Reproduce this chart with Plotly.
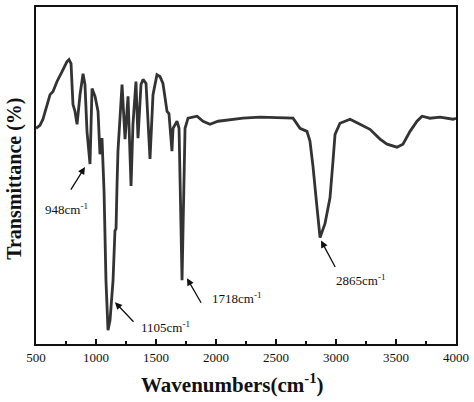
import plotly.graph_objects as go

wavenumber = [500, 533, 558, 592, 617, 642, 675, 717, 742, 758, 775, 792, 808, 825, 842,
              867, 892, 908, 925, 950, 967, 992, 1017, 1033, 1050, 1067, 1083, 1100, 1117,
              1142, 1158, 1167, 1175, 1183, 1217, 1242, 1267, 1292, 1308, 1333, 1350, 1375,
              1392, 1417, 1450, 1475, 1508, 1533, 1558, 1592, 1608, 1633, 1642, 1675, 1692,
              1708, 1717, 1725, 1742, 1767, 1842, 1892, 1950, 2017, 2225, 2367, 2642, 2700,
              2758, 2783, 2808, 2842, 2867, 2908, 2950, 2975, 2992, 3033, 3117, 3200, 3283,
              3367, 3425, 3508, 3558, 3617, 3675, 3717, 3783, 3867, 3975, 4000]
transmittance = [64.0, 64.9, 66.7, 70.5, 74.0, 74.9, 77.9, 80.8, 82.9, 83.8, 84.4, 83.2, 71.1,
                 69.0, 65.2, 74.0, 80.2, 77.0, 63.1, 53.4, 75.8, 73.5, 69.0, 56.3, 61.1, 45.4,
                 18.9, 4.1, 7.1, 18.9, 33.6, 34.2, 46.9, 57.2, 77.0, 60.8, 73.5, 46.9, 65.2,
                 77.9, 61.1, 77.0, 78.5, 77.3, 54.9, 74.0, 79.9, 79.4, 77.3, 69.0, 68.4, 57.2,
                 64.0, 66.1, 64.0, 36.6, 18.9, 33.6, 64.0, 67.0, 67.6, 66.1, 65.2, 66.1, 67.0,
                 67.3, 67.0, 64.0, 63.1, 60.2, 52.8, 40.4, 31.6, 35.7, 43.4, 54.3, 62.2, 65.5,
                 66.7, 65.2, 63.7, 60.8, 59.3, 58.4, 59.3, 63.1, 66.1, 67.6, 67.0, 67.3, 66.7,
                 67.0]

peak_labels = ["948cm<sup>-1</sup>", "1105cm<sup>-1</sup>", "1718cm<sup>-1</sup>", "2865cm<sup>-1</sup>"]
arrow_head_x = [908, 1158, 1758, 2875]
arrow_head_y = [52.5, 12.4, 19.5, 30.7]
label_x = [750, 1583, 2167, 3208]
label_y = [40.1, 5.0, 13.6, 18.9]
arrow_ax = [-15, 20, 15, 15]
arrow_ay = [24, 21, 26, 28]

tick_vals = [500, 1000, 1500, 2000, 2500, 3000, 3500, 4000]

font_family = "Liberation Serif"

fig = go.Figure()
fig.add_trace(go.Scatter(x=wavenumber, y=transmittance, mode="lines",
                         line=dict(color="#333333", width=2.8), showlegend=False))

for lab, hx, hy, lx, ly, ax, ay in zip(peak_labels, arrow_head_x, arrow_head_y,
                                         label_x, label_y, arrow_ax, arrow_ay):
    fig.add_annotation(x=hx, y=hy, xref="x", yref="y", text="", showarrow=True,
                       ax=ax, ay=ay, arrowhead=2, arrowsize=1.1, arrowwidth=1.3,
                       arrowcolor="#111111", standoff=0)
    fig.add_annotation(x=lx, y=ly, xref="x", yref="y", text=lab, showarrow=False,
                       font=dict(family=font_family, size=13, color="#111111"))

fig.add_annotation(x=0.469, y=-0.118, xref="paper", yref="paper", yanchor="middle",
                   text="<b>Wavenumbers(cm<sup>-1</sup>)</b>", showarrow=False,
                   font=dict(family=font_family, size=21, color="#111111"))
fig.add_annotation(x=-0.05, y=0.49, xref="paper", yref="paper", xanchor="center",
                   yanchor="middle",
                   text="<b>Transmittance (%)</b>", showarrow=False, textangle=-90,
                   font=dict(family=font_family, size=20, color="#111111"))

fig.update_layout(
    width=474, height=402,
    margin=dict(l=36, r=18, t=5, b=58),
    paper_bgcolor="white", plot_bgcolor="white",
    font=dict(family=font_family, size=13, color="#111111"),
)
fig.update_xaxes(range=[500, 4000], tickvals=tick_vals, ticks="inside", ticklen=5,
                 tickwidth=1.5, tickcolor="#111111",
                 minor=dict(dtick=250, ticks="inside", ticklen=3, tickwidth=1.5, tickcolor="#111111"),
                 showline=True, linecolor="#111111", linewidth=2, mirror=True,
                 showgrid=False, zeroline=False, tickfont=dict(size=13))
fig.update_yaxes(range=[0, 100], showticklabels=False, ticks="",
                 showline=True, linecolor="#111111", linewidth=2, mirror=True,
                 showgrid=False, zeroline=False)

fig.write_html("out.html", config={"displayModeBar": False},
               post_script="document.body.style.margin='0';document.body.style.overflow='hidden';")
